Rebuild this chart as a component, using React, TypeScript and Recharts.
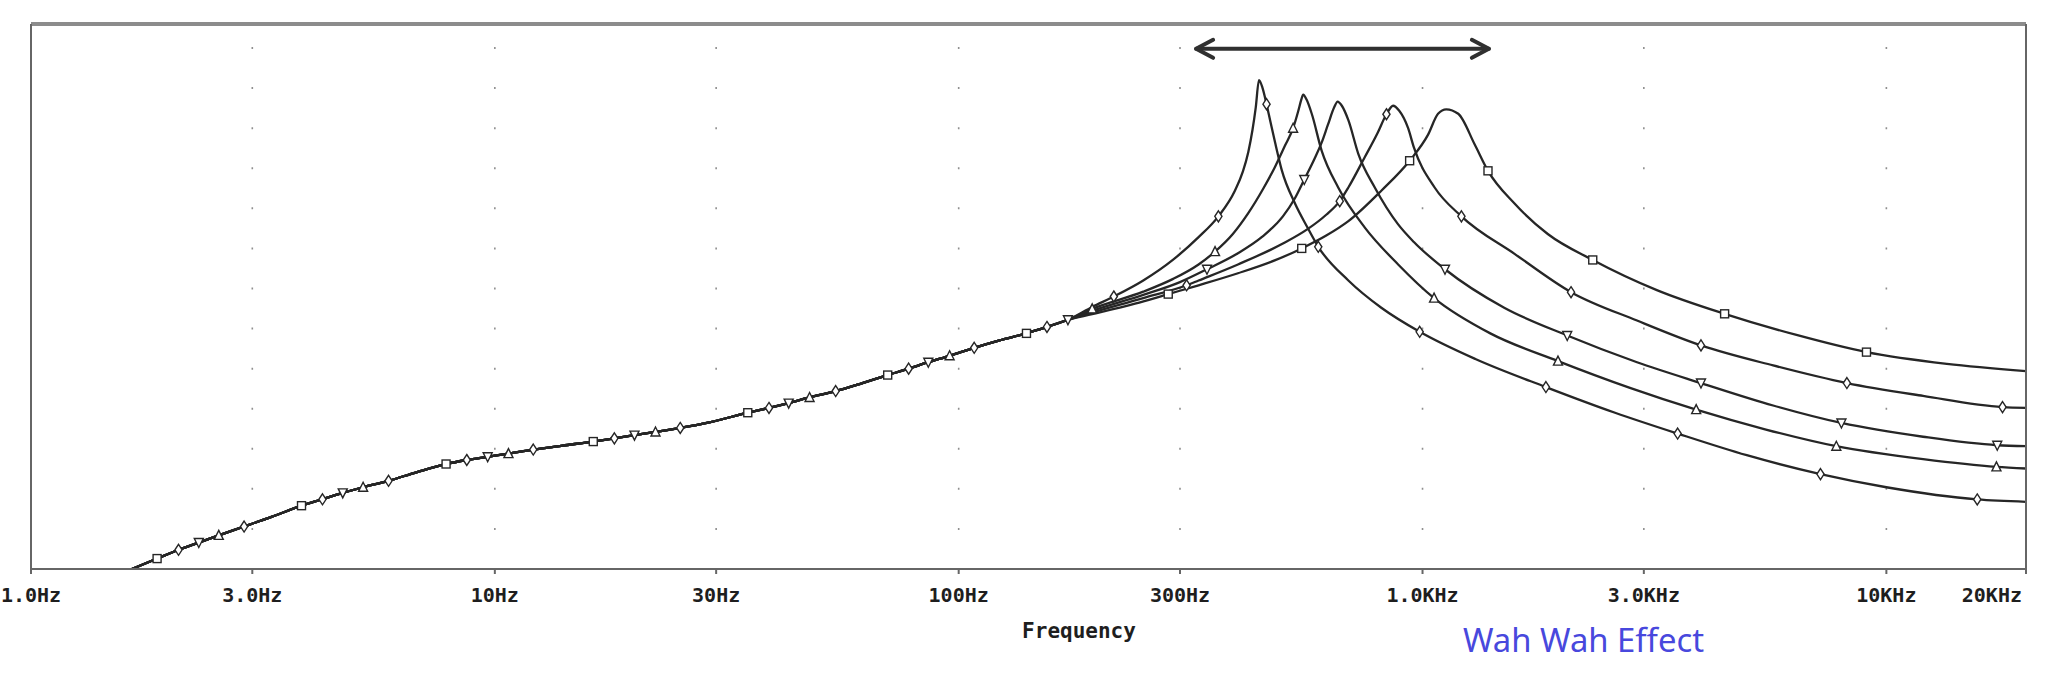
import React from "react";
import { LineChart, Line, XAxis, YAxis, CartesianGrid, ReferenceLine } from "recharts";

// x axis (log frequency)
const tickFreqs = [1, 3, 10, 30, 100, 300, 1000, 3000, 10000, 20000];
const tickLabels = ["1.0Hz", "3.0Hz", "10Hz", "30Hz", "100Hz", "300Hz", "1.0KHz", "3.0KHz", "10KHz", "20KHz"];
const gridFreqs = [3, 10, 30, 100, 300, 1000, 3000, 10000];
// y axis has no labels, only tick marks
const gainTicks = [0, 10, 20, 30];

// low-frequency part, all five traces sit on top of each other here
const baseFreq = [1.65, 1.8, 1.87, 2.0, 2.08, 2.3, 2.54, 2.88, 3.3, 3.83, 4.25, 4.7, 5.2, 5.9, 6.8, 7.85, 8.7, 9.65, 10.7, 12.1, 14, 16.3, 18.1, 20, 22.2, 25.1, 29, 35.1, 39, 43, 47.7, 54.3, 62, 70.3, 78, 86, 95.6, 108, 122, 140, 155, 172];
const baseGain = [0, 0.45, 0.65, 1.0, 1.2, 1.65, 2.1, 2.65, 3.25, 3.95, 4.35, 4.75, 5.1, 5.5, 6.05, 6.55, 6.8, 7.0, 7.2, 7.45, 7.7, 7.95, 8.15, 8.35, 8.55, 8.8, 9.15, 9.75, 10.05, 10.35, 10.7, 11.1, 11.6, 12.1, 12.5, 12.9, 13.3, 13.8, 14.25, 14.7, 15.1, 15.55];

// resonance 1 (~440Hz)
const c1Freq = [194, 216, 250, 290, 329, 363, 394, 410, 421, 430, 437, 444, 452, 461, 470, 481, 497, 531, 565, 596, 692, 815, 986, 1300, 1845, 2600, 3548, 5000, 7210, 10000, 15700, 20000];
const c1Gain = [16.35, 17.0, 18.0, 19.3, 20.7, 22.0, 23.6, 24.8, 26.0, 27.4, 28.8, 30.5, 30.0, 29.0, 27.9, 26.6, 24.9, 22.8, 21.3, 20.1, 18.0, 16.3, 14.8, 13.1, 11.35, 9.75, 8.45, 7.1, 5.92, 5.1, 4.34, 4.19];
const c1Marks = [2.88, 5.9, 12.1, 25.1, 54.3, 108, 216, 363, 461, 596, 986, 1845, 3548, 7210, 15700];

// resonance 2 (~550Hz)
const c2Freq = [194, 250, 290, 329, 357, 390, 421, 455, 481, 505, 526, 540, 548, 553, 562, 577, 606, 658, 751, 886, 1059, 1400, 1959, 2800, 3890, 5500, 7800, 12000, 17270, 20000];
const c2Gain = [16.23, 17.3, 18.1, 19.0, 19.8, 20.9, 22.2, 23.8, 25.1, 26.4, 27.5, 28.6, 29.3, 29.6, 29.3, 28.4, 26.1, 23.8, 21.3, 19.0, 16.9, 14.7, 12.97, 11.3, 9.94, 8.7, 7.66, 6.85, 6.37, 6.27];
const c2Marks = [2.54, 5.2, 10.7, 22.2, 47.7, 95.6, 194, 357, 526, 1059, 1959, 3890, 7800, 17270];

// resonance 3 (~650Hz)
const c3Freq = [194, 250, 300, 343, 400, 450, 500, 530, 556, 585, 606, 625, 645, 656, 670, 692, 727, 789, 886, 958, 1118, 1500, 2051, 2900, 3984, 5700, 8000, 12000, 17340, 20000];
const c3Gain = [16.1, 17.1, 17.9, 18.7, 19.7, 20.7, 22.0, 23.1, 24.3, 25.6, 26.6, 27.7, 28.8, 29.16, 28.9, 28.0, 25.9, 23.8, 21.5, 20.4, 18.7, 16.3, 14.57, 12.9, 11.6, 10.2, 9.11, 8.25, 7.72, 7.66];
const c3Marks = [2.3, 4.7, 9.65, 20, 43, 86, 172, 343, 556, 1118, 2051, 3984, 8000, 17340];

// resonance 4 (~860Hz)
const c4Freq = [194, 250, 310, 329, 400, 500, 565, 620, 663, 692, 751, 800, 836, 864, 890, 931, 958, 1062, 1213, 1579, 2090, 2900, 3984, 5700, 8220, 12000, 17800, 20000];
const c4Gain = [16.0, 16.9, 17.7, 18.0, 19.0, 20.3, 21.2, 22.1, 22.95, 23.8, 25.7, 27.2, 28.37, 28.9, 28.6, 27.5, 26.3, 23.8, 22.0, 19.66, 17.27, 15.5, 13.95, 12.7, 11.6, 10.8, 10.1, 10.05];
const c4Marks = [2.08, 4.25, 8.7, 18.1, 39, 78, 155, 310, 663, 836, 1213, 2090, 3984, 8220, 17800];

// resonance 5 (~1.1KHz)
const c5Freq = [194, 240, 283, 329, 400, 480, 549, 620, 692, 815, 938, 1028, 1080, 1125, 1194, 1295, 1384, 1579, 1862, 2328, 3200, 4480, 6400, 9060, 13500, 20000];
const c5Gain = [15.9, 16.55, 17.15, 17.7, 18.45, 19.25, 20.0, 20.8, 21.7, 23.6, 25.47, 27.1, 28.4, 28.68, 28.4, 26.5, 24.84, 22.8, 20.9, 19.28, 17.4, 15.92, 14.6, 13.53, 12.8, 12.35];
const c5Marks = [1.87, 3.83, 7.85, 16.3, 35.1, 70.3, 140, 283, 549, 938, 1384, 2328, 4480, 9060];

// sweep arrow above the peaks
const sweepFrom = 325;
const sweepTo = 1390;
const sweepLevel = 32.45;

const W = 2048;
const H = 673;
const M = { top: 23, right: 21, bottom: 74, left: 30 };
const X_AXIS_H = 30;
const Y_MAX = 34;
const plotH = H - M.top - 1 - M.bottom - X_AXIS_H;
const unit = plotH / Y_MAX;
// PSpice style dotted grid: one dot every 2.5 units
const gridDash = `0 ${1.5 * unit - 1} 2 ${unit - 1}`;

const INK = "#262626";
const AXIS = "#666";

const toRows = (f: number[], g: number[]) => f.map((x, i) => ({ f: x, v: g[i] }));

const series = [
  { id: "c1", rows: toRows([...baseFreq, ...c1Freq], [...baseGain, ...c1Gain]), marks: c1Marks, shape: "diamond" },
  { id: "c2", rows: toRows([...baseFreq, ...c2Freq], [...baseGain, ...c2Gain]), marks: c2Marks, shape: "up" },
  { id: "c3", rows: toRows([...baseFreq, ...c3Freq], [...baseGain, ...c3Gain]), marks: c3Marks, shape: "down" },
  { id: "c4", rows: toRows([...baseFreq, ...c4Freq], [...baseGain, ...c4Gain]), marks: c4Marks, shape: "diamond" },
  { id: "c5", rows: toRows([...baseFreq, ...c5Freq], [...baseGain, ...c5Gain]), marks: c5Marks, shape: "square" },
];

const Marker = ({ shape, cx, cy }: { shape: string; cx: number; cy: number }) => {
  const st = { fill: "#fff", stroke: INK, strokeWidth: 1.4 };
  if (shape === "square") return <rect x={cx - 4} y={cy - 4} width={8} height={8} {...st} />;
  if (shape === "up")
    return <polygon points={`${cx},${cy - 5} ${cx + 4.5},${cy + 4} ${cx - 4.5},${cy + 4}`} {...st} />;
  if (shape === "down")
    return <polygon points={`${cx},${cy + 5} ${cx + 4.5},${cy - 4} ${cx - 4.5},${cy - 4}`} {...st} />;
  return <polygon points={`${cx},${cy - 5.5} ${cx + 3.6},${cy} ${cx},${cy + 5.5} ${cx - 3.6},${cy}`} {...st} />;
};

const makeDot = (shape: string, marks: number[]) => (props: any) => {
  const { cx, cy, payload, index } = props;
  if (!marks.includes(payload.f) || cx == null || cy == null) return <g key={`m${index}`} />;
  return (
    <g key={`m${index}`}>
      <Marker shape={shape} cx={cx} cy={cy} />
    </g>
  );
};

const FreqTick = (props: any) => {
  const { x, y, payload } = props;
  const i = tickFreqs.indexOf(payload.value);
  const last = i === tickFreqs.length - 1;
  return (
    <text
      x={last ? x - 4 : x}
      y={y + 26}
      textAnchor={last ? "end" : "middle"}
      fontFamily="'DejaVu Sans Mono', monospace"
      fontWeight="bold"
      fontSize={20}
      fill="#1e1e1e"
    >
      {tickLabels[i]}
    </text>
  );
};

const SweepArrow = (props: any) => {
  const { x1, y1, x2, y2 } = props;
  return (
    <g stroke="#303030" strokeWidth={4} fill="none" strokeLinecap="round" strokeLinejoin="round">
      <line x1={x1} y1={y1} x2={x2} y2={y2} />
      <polyline points={`${x1 + 17},${y1 - 9} ${x1},${y1} ${x1 + 17},${y1 + 9}`} />
      <polyline points={`${x2 - 17},${y2 - 9} ${x2},${y2} ${x2 - 17},${y2 + 9}`} />
    </g>
  );
};

export default function App() {
  return (
    <div style={{ position: "absolute", left: 0, top: 0, width: W, height: H, background: "#fff" }}>
      <LineChart width={W} height={H} margin={M}>
        <CartesianGrid
          horizontal={false}
          verticalValues={gridFreqs}
          stroke="#8f8f8f"
          strokeWidth={1.6}
          strokeDasharray={gridDash}
        />
        <XAxis
          dataKey="f"
          type="number"
          scale="log"
          domain={[1, 20000]}
          ticks={tickFreqs}
          allowDataOverflow
          height={X_AXIS_H}
          tickSize={5}
          axisLine={{ stroke: AXIS, strokeWidth: 2 }}
          tickLine={{ stroke: AXIS, strokeWidth: 2 }}
          tick={<FreqTick />}
          interval={0}
        />
        <XAxis
          xAxisId="top"
          orientation="top"
          dataKey="f"
          type="number"
          scale="log"
          domain={[1, 20000]}
          ticks={tickFreqs}
          allowDataOverflow
          height={1}
          tick={false}
          tickLine={false}
          axisLine={{ stroke: "#8c8c8c", strokeWidth: 4 }}
        />
        <YAxis
          type="number"
          domain={[0, Y_MAX]}
          ticks={gainTicks}
          allowDataOverflow
          width={1}
          tick={false}
          tickSize={5}
          axisLine={{ stroke: AXIS, strokeWidth: 2 }}
          tickLine={{ stroke: AXIS, strokeWidth: 2 }}
        />
        <YAxis
          yAxisId="right"
          orientation="right"
          type="number"
          domain={[0, Y_MAX]}
          ticks={gainTicks}
          width={1}
          tick={false}
          tickLine={false}
          axisLine={{ stroke: AXIS, strokeWidth: 2 }}
        />
        {series.map((s) => (
          <Line
            key={s.id}
            data={s.rows}
            dataKey="v"
            type="monotone"
            stroke={INK}
            strokeWidth={2.3}
            dot={makeDot(s.shape, s.marks)}
            activeDot={false}
            isAnimationActive={false}
          />
        ))}
        <ReferenceLine
          segment={[
            { x: sweepFrom, y: sweepLevel },
            { x: sweepTo, y: sweepLevel },
          ]}
          shape={<SweepArrow />}
        />
      </LineChart>
      <svg width={W} height={H} style={{ position: "absolute", left: 0, top: 0, pointerEvents: "none" }}>
        <text
          x={1079}
          y={638}
          textAnchor="middle"
          fontFamily="'DejaVu Sans Mono', monospace"
          fontWeight="bold"
          fontSize={21}
          fill="#1e1e1e"
        >
          Frequency
        </text>
        <text
          x={1463}
          y={652}
          fontFamily="'Noto Sans', 'Open Sans', sans-serif"
          fontSize={32}
          fill="#4848dd"
          textLength={241}
          lengthAdjust="spacingAndGlyphs"
        >
          Wah Wah Effect
        </text>
      </svg>
    </div>
  );
}
